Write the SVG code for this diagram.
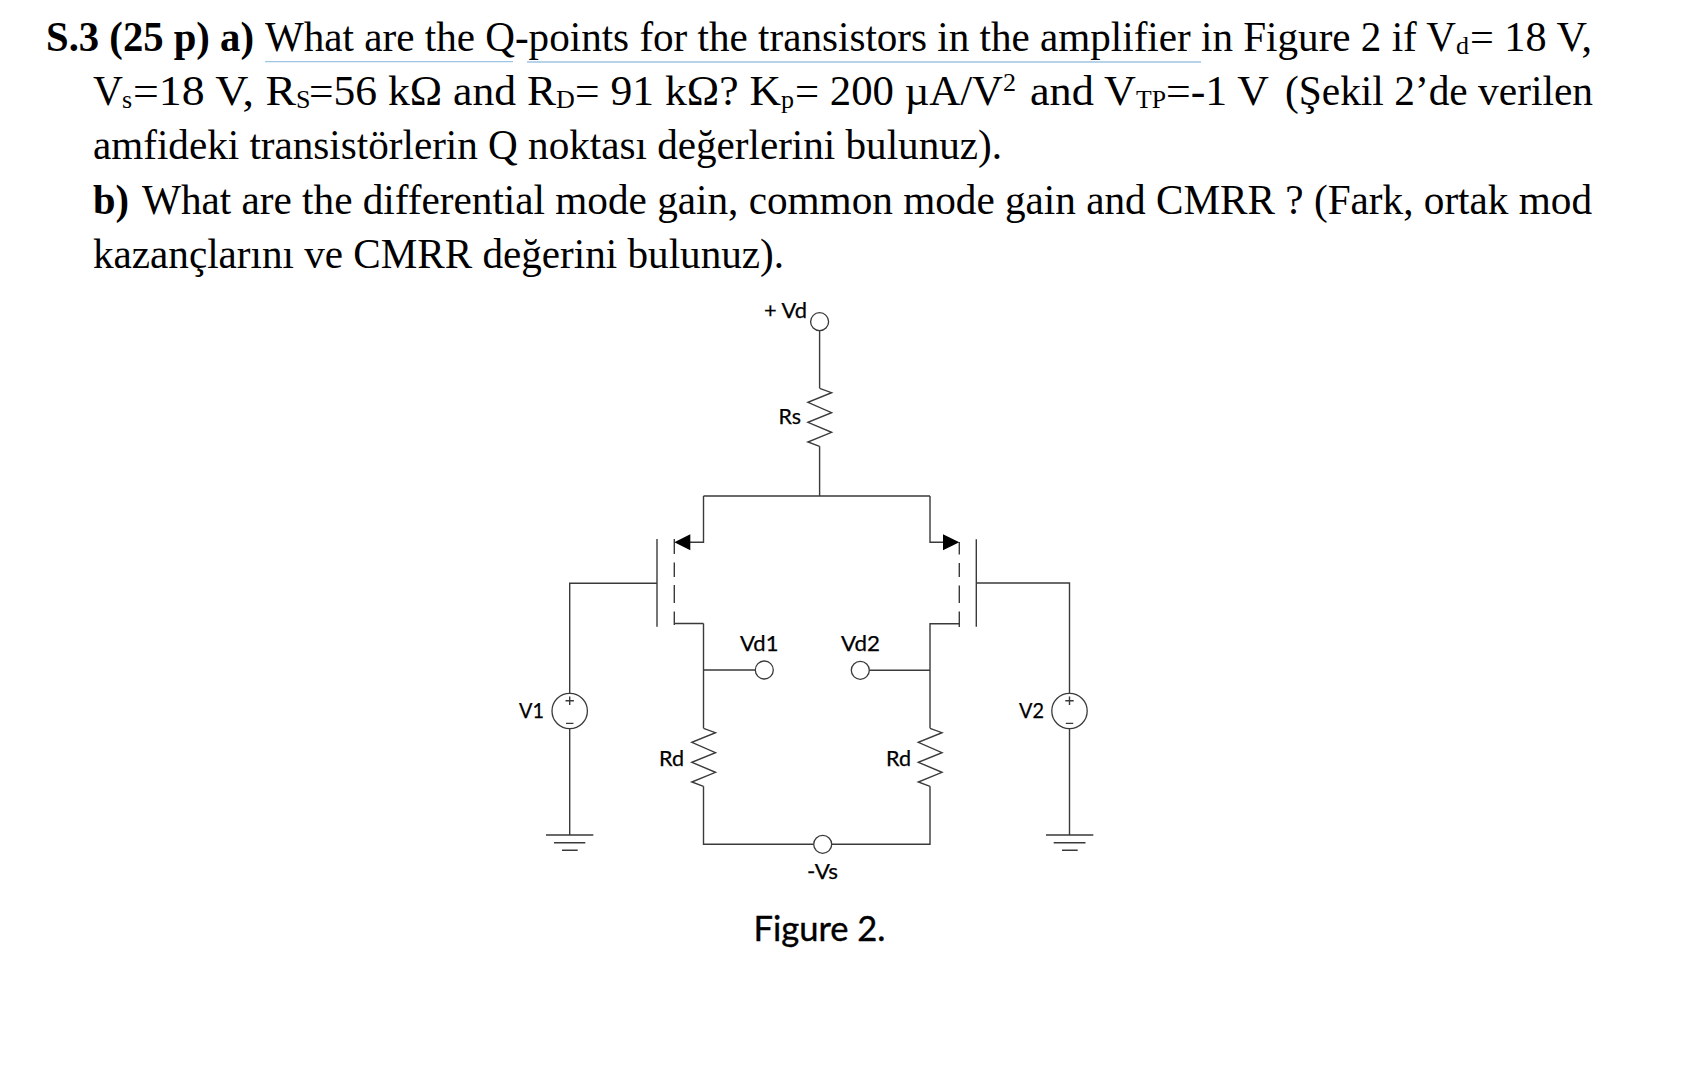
<svg xmlns="http://www.w3.org/2000/svg" width="1702" height="1088" viewBox="0 0 1702 1088">
<style>
.t{font-family:"Liberation Serif","Times New Roman",serif;font-size:41.5px;fill:#000}
.b{font-weight:bold}
.s{font-family:"Liberation Serif","Times New Roman",serif;font-size:26px;fill:#000}
.l{font-family:Lato,"Open Sans",sans-serif;font-size:22px;fill:#000;stroke:#000;stroke-width:.25}
.w{fill:none;stroke:#3a3a3a;stroke-width:1.4}
.n{fill:#fff;stroke:#3a3a3a;stroke-width:1.3}
.u{fill:none;stroke:#9fc5e4;stroke-width:1.3}
</style>
<defs>
<polyline id="res" class="w" points="0,0 12,4.4 -11.7,14 12,24.4 -11.7,34 12,44 -11.7,53.7 0,58"/>
</defs>
<rect width="1702" height="1088" fill="#fff"/>
<g id="question">
<text class="t b" x="46" y="51" textLength="208" lengthAdjust="spacingAndGlyphs">S.3 (25 p) a)</text>
<text class="t" x="265" y="51" textLength="1191" lengthAdjust="spacingAndGlyphs">What are the Q-points for the transistors in the amplifier in Figure 2 if V</text>
<text class="s" x="1456" y="54">d</text>
<text class="t" x="1470" y="51" textLength="122" lengthAdjust="spacingAndGlyphs">= 18 V,</text>
<path class="u" d="M265 61.7H513M527 62H1201"/>
<text class="t" x="93" y="105">V</text>
<text class="s" x="122" y="108">s</text>
<text class="t" x="133" y="105" textLength="163" lengthAdjust="spacingAndGlyphs">=18 V, R</text>
<text class="s" x="296" y="108">S</text>
<text class="t" x="309" y="105" textLength="247" lengthAdjust="spacingAndGlyphs">=56 kΩ and R</text>
<text class="s" x="556" y="108">D</text>
<text class="t" x="575" y="105" textLength="206" lengthAdjust="spacingAndGlyphs">= 91 kΩ? K</text>
<text class="s" x="781" y="108">p</text>
<text class="t" x="795" y="105" textLength="208" lengthAdjust="spacingAndGlyphs">= 200 µA/V</text>
<text class="s" x="1003" y="91">2</text>
<text class="t" x="1030" y="105" textLength="106" lengthAdjust="spacingAndGlyphs">and V</text>
<text class="s" x="1136" y="108" textLength="30" lengthAdjust="spacingAndGlyphs">TP</text>
<text class="t" x="1166" y="105" textLength="103" lengthAdjust="spacingAndGlyphs">=-1 V</text>
<text class="t" x="1285" y="105" textLength="308" lengthAdjust="spacingAndGlyphs">(Şekil 2’de verilen</text>
<text class="t" x="93" y="159" textLength="909" lengthAdjust="spacingAndGlyphs">amfideki transistörlerin Q noktası değerlerini bulunuz).</text>
<text class="t b" x="93" y="214" textLength="36" lengthAdjust="spacingAndGlyphs">b)</text>
<text class="t" x="142" y="214" textLength="1450" lengthAdjust="spacingAndGlyphs">What are the differential mode gain, common mode gain and CMRR ? (Fark, ortak mod</text>
<text class="t" x="93" y="268" textLength="691" lengthAdjust="spacingAndGlyphs">kazançlarını ve CMRR değerini bulunuz).</text>
</g>
<g id="connectors">
<path class="w" d="M819.6 331V388.3M819.6 446.3V496M703.5 496H930M703.5 496V542.3H690M703.5 623.5H674.3M703.5 623.5V728.3M703.5 786.3V844.3H813.7M831.7 844.3H930V786.3M930 728.3V623.7H959.3M930 496V542.3H943"/>
<path class="w" d="M703.5 670H755.3M869.3 670.3H930"/>
<path class="w" d="M657 583.3H569.7V693.3M569.7 728.7V835M976.3 583H1069.5V693.3M1069.5 728.7V835"/>
</g>
<g id="vd-terminal"><circle class="n" cx="819.6" cy="321.7" r="9"/><text class="l" x="764" y="318" textLength="43" lengthAdjust="spacingAndGlyphs">+ Vd</text></g>
<g id="rs"><use href="#res" x="819.6" y="388.3"/><text class="l" x="778.5" y="424" textLength="22.5" lengthAdjust="spacingAndGlyphs">Rs</text></g>
<g id="m1">
<path class="w" d="M657 539V626.7"/>
<path class="w" d="M674.3 539V554M674.3 562.5V577M674.3 585V603M674.3 611.5V625"/>
<polygon points="674.3,542.3 690.3,534.3 690.3,550.3" fill="#000"/>
</g>
<g id="m2">
<path class="w" d="M976.3 539.3V626.7"/>
<path class="w" d="M959.3 542V554.5M959.3 563V577M959.3 585.5V603M959.3 611.5V627"/>
<polygon points="959.3,542.3 943,534.3 943,550.3" fill="#000"/>
</g>
<g id="vd1"><circle class="n" cx="764.3" cy="670" r="9"/><text class="l" x="740" y="651" textLength="38.5" lengthAdjust="spacingAndGlyphs">Vd1</text></g>
<g id="vd2"><circle class="n" cx="860.3" cy="670.3" r="9"/><text class="l" x="841" y="651" textLength="39" lengthAdjust="spacingAndGlyphs">Vd2</text></g>
<g id="v1"><circle class="n" cx="569.7" cy="711" r="17.7"/><path class="w" d="M565.5 700.7H573.9M569.7 696.5V704.9M566 723.4H573.4"/><text class="l" x="519" y="718" textLength="25" lengthAdjust="spacingAndGlyphs">V1</text></g>
<g id="v2"><circle class="n" cx="1069.5" cy="711" r="17.7"/><path class="w" d="M1065.3 700.7H1073.7M1069.5 696.5V704.9M1065.8 723.4H1073.2"/><text class="l" x="1019" y="718" textLength="25" lengthAdjust="spacingAndGlyphs">V2</text></g>
<g id="rd1"><use href="#res" x="703.5" y="728.3"/><text class="l" x="659" y="765.5" textLength="25" lengthAdjust="spacingAndGlyphs">Rd</text></g>
<g id="rd2"><use href="#res" x="930" y="728.3"/><text class="l" x="886" y="765.5" textLength="25" lengthAdjust="spacingAndGlyphs">Rd</text></g>
<g id="gnd1"><path class="w" d="M546 835H593.3M554 842.7H585.3M562 850.3H577.7"/></g>
<g id="gnd2"><path class="w" d="M1046 835H1093.3M1053.7 842.7H1085.5M1062 850.3H1077.7"/></g>
<g id="vs-terminal"><circle class="n" cx="822.7" cy="844.3" r="9"/><text class="l" x="807" y="879" textLength="31" lengthAdjust="spacingAndGlyphs">-Vs</text></g>
<text id="caption" class="l" style="font-size:35px;stroke-width:.4" x="753.5" y="941" textLength="132" lengthAdjust="spacingAndGlyphs">Figure 2.</text>
</svg>
